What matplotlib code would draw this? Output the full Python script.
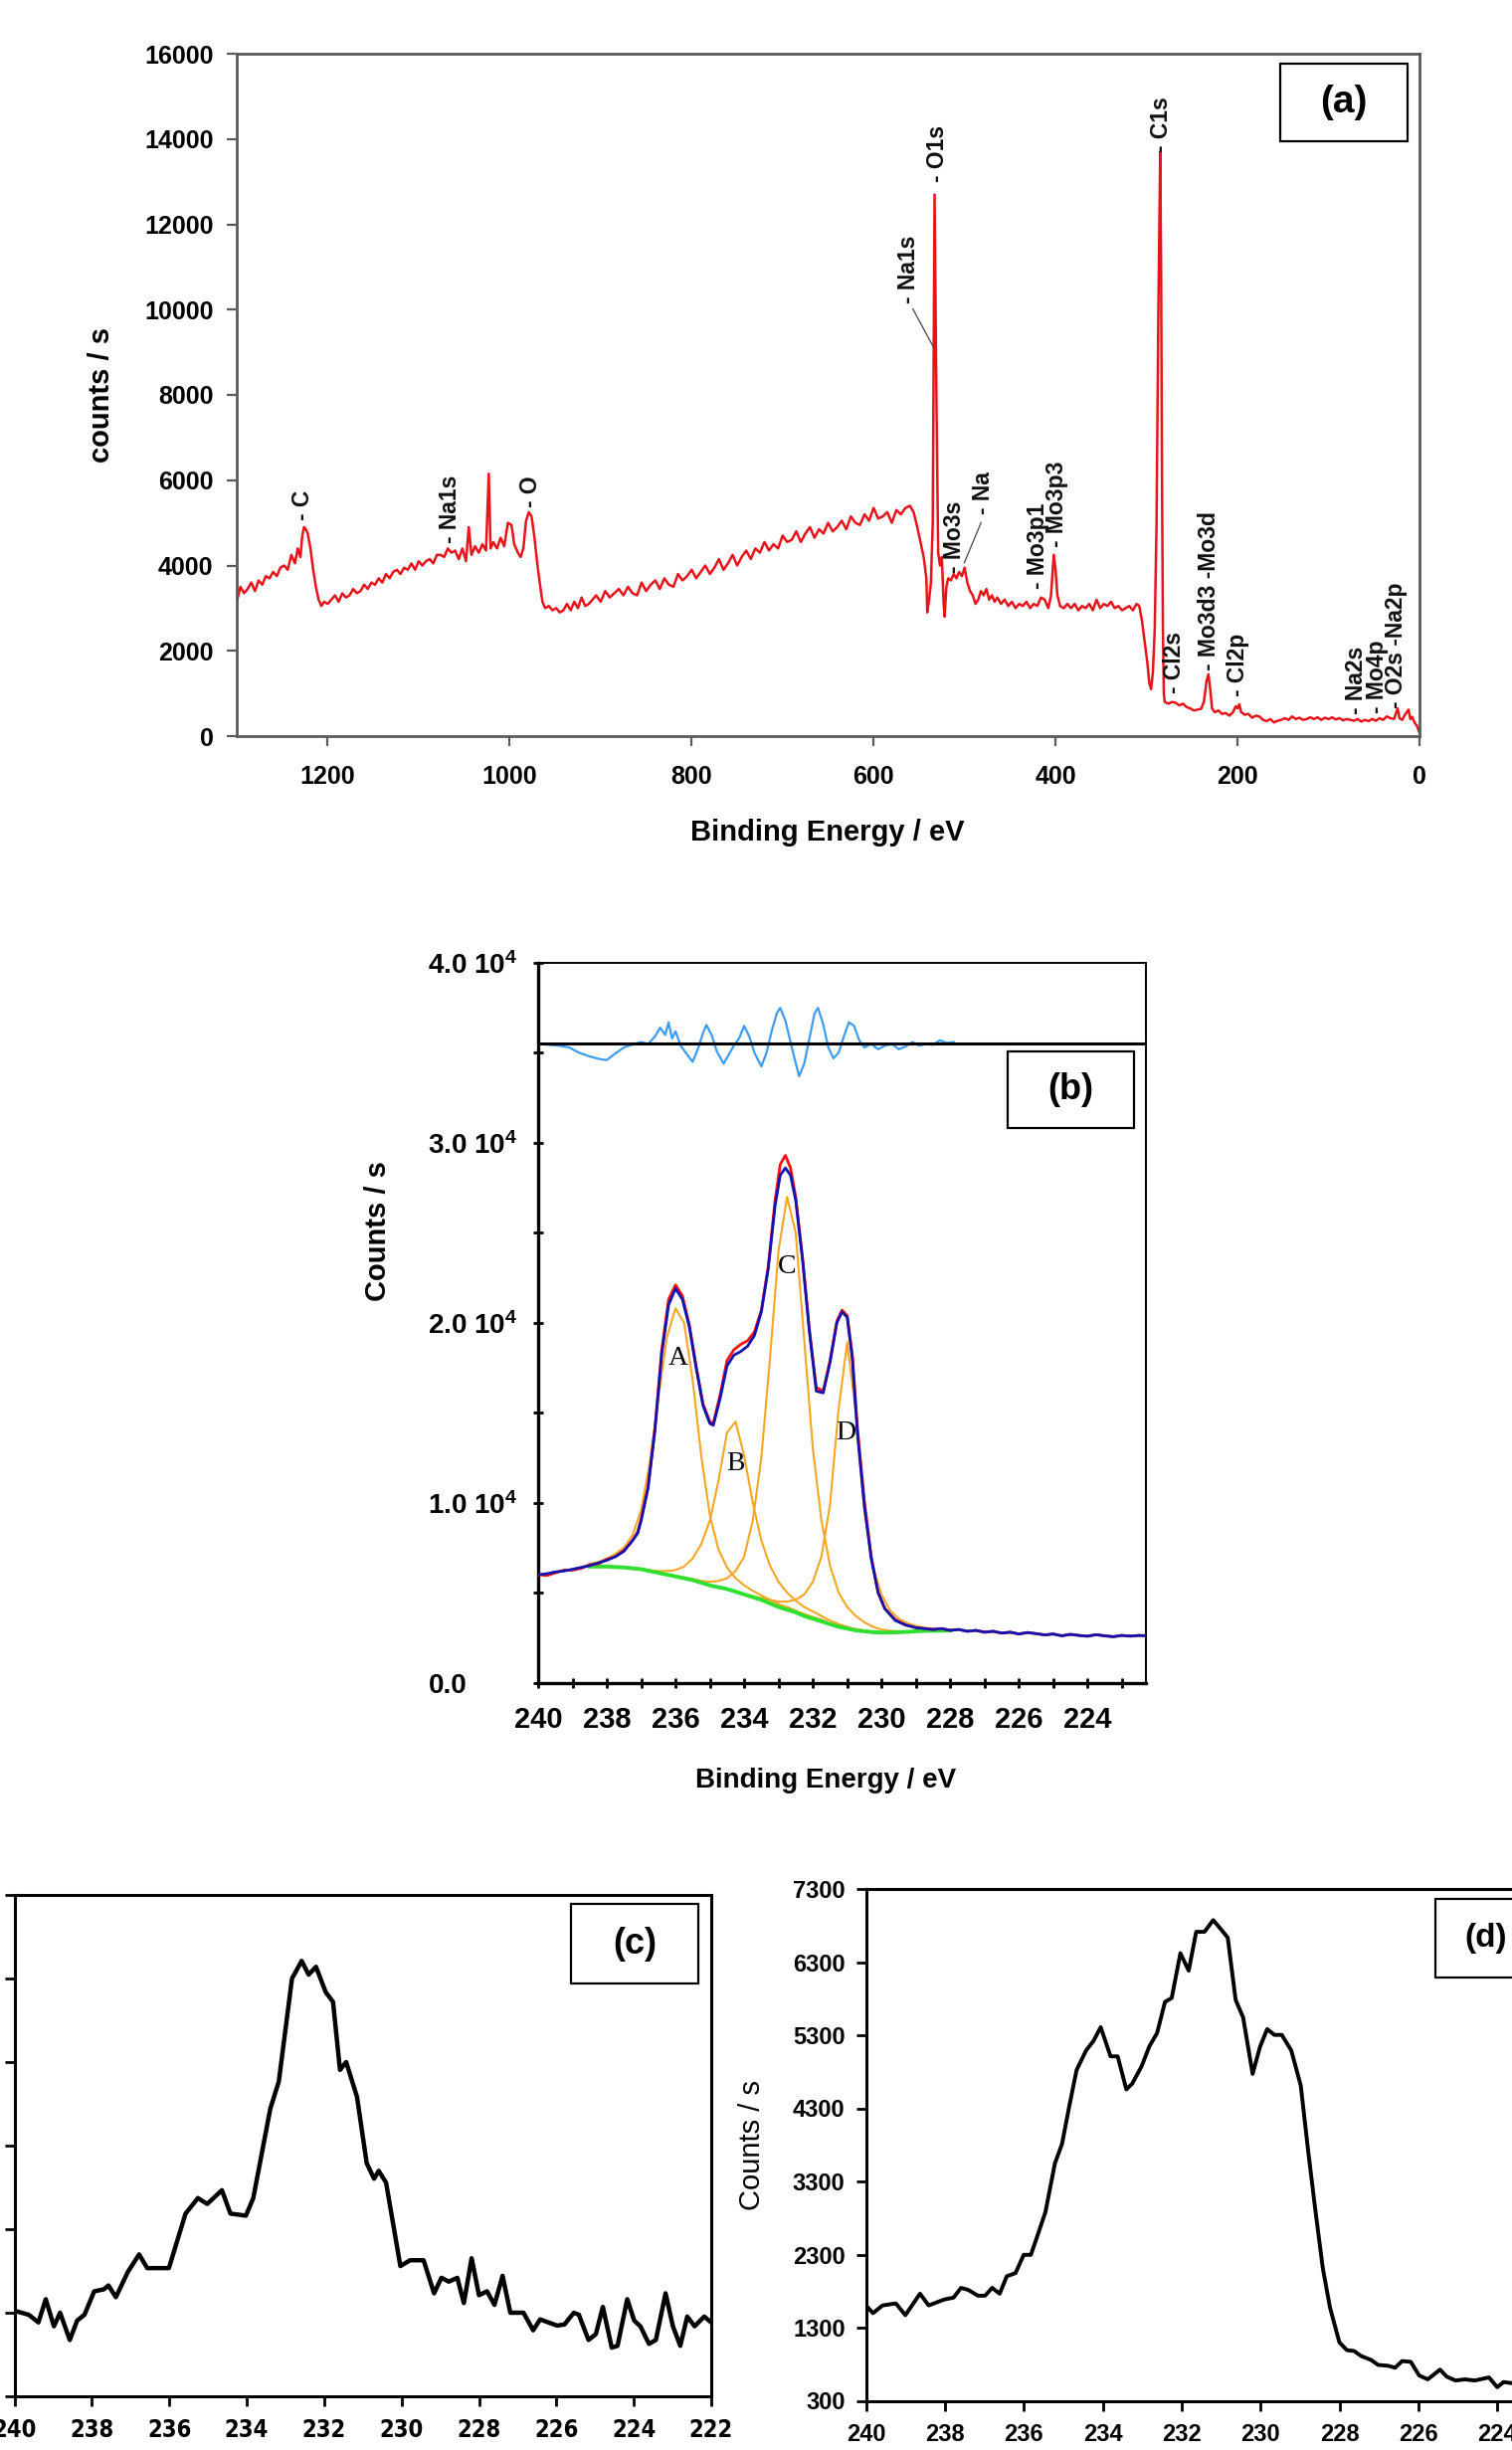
import matplotlib
matplotlib.use("Agg")
import matplotlib.pyplot as plt
from matplotlib.patches import Rectangle
from matplotlib.ticker import MultipleLocator
import numpy as np

plt.rcParams['font.family'] = ['Liberation Sans', 'DejaVu Sans']
plt.rcParams['mathtext.fontset'] = 'custom'
plt.rcParams['mathtext.rm'] = 'Liberation Sans'
plt.rcParams['mathtext.bf'] = 'Liberation Sans:bold'
plt.rcParams['mathtext.default'] = 'bf'

# ------------------------------------------------------------------ data (a)
survey_be = [
    1300, 1296, 1292, 1288, 1284, 1280, 1276, 1272, 1268, 1264,
    1260, 1256, 1252, 1248, 1244, 1240, 1236, 1233, 1230, 1228,
    1226, 1224, 1222, 1219, 1216, 1213, 1210, 1207, 1204, 1200,
    1196, 1192, 1188, 1184, 1180, 1176, 1172, 1168, 1164, 1160,
    1156, 1152, 1148, 1144, 1140, 1136, 1132, 1128, 1124, 1120,
    1116, 1112, 1108, 1104, 1100, 1096, 1092, 1088, 1084, 1080,
    1076, 1072, 1068, 1064, 1060, 1056, 1052, 1048, 1045, 1042,
    1038, 1034, 1030, 1026, 1023, 1021, 1018, 1014, 1010, 1006,
    1002, 998, 995, 991, 988, 985, 982, 979, 976, 973,
    970, 967, 964, 961, 957, 953, 949, 945, 941, 937,
    933, 929, 925, 921, 917, 913, 909, 905, 900, 895,
    890, 885, 880, 875, 870, 865, 860, 855, 850, 845,
    840, 835, 830, 825, 820, 815, 810, 805, 800, 795,
    790, 785, 780, 775, 770, 765, 760, 755, 750, 745,
    740, 735, 730, 725, 720, 715, 710, 705, 700, 695,
    690, 685, 680, 675, 670, 665, 660, 655, 650, 645,
    640, 635, 630, 625, 620, 615, 610, 605, 600, 595,
    590, 585, 580, 575, 570, 565, 560, 556, 552, 548,
    545, 542, 541, 539, 537, 535, 533, 531, 529, 527,
    525, 523, 522, 520, 518, 515, 512, 509, 506, 503,
    500, 497, 494, 491, 488, 485, 482, 479, 476, 473,
    470, 467, 464, 460, 456, 452, 448, 444, 440, 436,
    432, 428, 424, 420, 416, 412, 408, 405, 402, 400,
    398, 395, 391, 387, 383, 379, 375, 371, 367, 363,
    359, 355, 351, 347, 343, 339, 335, 331, 327, 323,
    319, 315, 311, 308, 305, 302, 299, 297, 295, 293,
    291, 289, 287, 285, 284, 283, 282, 281, 280, 276,
    272, 268, 264, 260, 256, 252, 248, 244, 240, 237,
    234, 232, 230, 228, 225, 221, 217, 213, 209, 205,
    202, 200, 198, 196, 192, 188, 184, 180, 176, 172,
    168, 164, 160, 156, 152, 148, 144, 140, 136, 132,
    128, 124, 120, 116, 112, 108, 104, 100, 96, 92,
    88, 84, 80, 76, 72, 68, 64, 60, 56, 52,
    48, 44, 40, 36, 32, 28, 24, 22, 19, 16,
    12, 10, 8, 5, 3, 0]
survey_cps = [
    3150, 3500, 3350, 3450, 3600, 3400, 3650, 3550, 3750, 3700,
    3850, 3750, 3950, 4000, 3900, 4250, 4050, 4400, 4200, 4700,
    4900, 4850, 4750, 4400, 3900, 3500, 3200, 3050, 3150, 3100,
    3200, 3300, 3150, 3350, 3250, 3300, 3450, 3350, 3400, 3550,
    3450, 3600, 3550, 3700, 3600, 3800, 3700, 3850, 3900, 3800,
    3950, 3900, 4050, 3900, 4100, 4000, 4100, 4150, 4050, 4250,
    4250, 4200, 4400, 4300, 4350, 4150, 4400, 4100, 4900, 4250,
    4450, 4300, 4500, 4350, 6150, 4400, 4550, 4400, 4650, 4450,
    5000, 4950, 4500, 4300, 4200, 4400, 5050, 5250, 5150, 4700,
    4100, 3600, 3150, 3000, 3050, 2950, 3000, 2900, 2950, 3100,
    2950, 3150, 3000, 3250, 3050, 3100, 3200, 3300, 3150, 3400,
    3250, 3350, 3450, 3300, 3500, 3350, 3300, 3600, 3400, 3550,
    3650, 3450, 3700, 3550, 3500, 3800, 3650, 3750, 3900, 3700,
    3850, 4000, 3800, 3950, 4150, 3900, 4050, 4250, 4000, 4200,
    4350, 4150, 4400, 4300, 4550, 4350, 4500, 4400, 4700, 4550,
    4600, 4800, 4550, 4750, 4900, 4650, 4850, 4750, 5000, 4800,
    4900, 5050, 4850, 5150, 5000, 4950, 5200, 5050, 5350, 5100,
    5150, 5250, 5000, 5300, 5200, 5350, 5400, 5250, 4900, 4500,
    4200, 3700, 2900, 3200, 3600, 5000, 12700, 8000, 4300, 4000,
    4200, 3100, 2800, 3500, 3700, 3650, 3800, 3700, 3850, 3750,
    3950, 3600, 3400, 3300, 3100, 3200, 3400, 3300, 3450, 3200,
    3300, 3150, 3250, 3100, 3200, 3050, 3150, 3000, 3100, 3050,
    3150, 3000, 3100, 3050, 3250, 3200, 3000, 3300, 4250, 3900,
    3300, 3050, 3000, 3100, 3000, 3100, 2950, 3050, 3000, 3100,
    2950, 3200, 3000, 3100, 3050, 3150, 3000, 3050, 2950, 3000,
    3050, 2950, 3100, 3050, 2700, 2200, 1700, 1250, 1100, 1500,
    2500, 5000, 10000, 13700, 11000, 6000, 2500, 1000, 800, 760,
    800, 780, 720, 760, 680, 650, 600, 620, 640, 800,
    1300, 1450, 1100, 650, 560, 600, 520, 540, 480, 560,
    700, 650, 750, 560, 500, 520, 430, 480, 460, 380,
    350, 400, 320, 360, 380, 420, 380, 460, 400, 430,
    380, 400, 440, 400, 440, 380, 430, 400, 440, 390,
    420, 370, 400, 380, 360, 400, 340, 380, 350, 400,
    360, 420, 380, 460, 420, 400, 650, 420, 380, 500,
    620, 400, 450, 300, 250, 80]

a_xticks = [1200, 1000, 800, 600, 400, 200, 0]
a_yticks = [0, 2000, 4000, 6000, 8000, 10000, 12000, 14000, 16000]

peak_text = ['- C', '- Na1s', '- O', '- Na1s', '- O1s', '- Mo3s', '- Na', '- Mo3p1',
             '- Mo3p3', '- C1s', '- Cl2s', '- Mo3d3 -Mo3d', '- Cl2p', '- Na2s',
             '- Mo4p', '- O2s -Na2p']
peak_be = [1227, 1065, 977, 561, 529.5, 511.5, 479, 419, 398, 284, 270, 231, 199.5,
           69.5, 46, 26]
peak_cps = [5070, 4530, 5370, 10140, 13000, 3820, 5190, 3460, 4420, 13700, 1010,
            1550, 935, 510, 545, 660]
leader_from_be = [557, 481.8]
leader_from_cps = [10020, 5010]
leader_to_be = [534.2, 500.4]
leader_to_cps = [9120, 4058]

# ------------------------------------------------------------------ data (b)
env_be = [240.0, 239.75, 239.5, 239.25, 239.0, 238.75, 238.5, 238.25, 238.0, 237.75,
          237.5, 237.25, 237.1, 237.0, 236.8, 236.6, 236.4, 236.2, 236.0, 235.8,
          235.6, 235.4, 235.2, 235.0, 234.9, 234.7, 234.5, 234.3, 234.1, 233.9,
          233.7, 233.5, 233.3, 233.1, 232.95, 232.8, 232.65, 232.5, 232.3, 232.1,
          231.9, 231.7, 231.5, 231.3, 231.15, 231.0, 230.85, 230.7, 230.5, 230.3,
          230.1, 229.9, 229.6, 229.3, 229.0, 228.75, 228.5, 228.25, 228.0, 227.75,
          227.5, 227.25, 227.0, 226.75, 226.5, 226.25, 226.0, 225.75, 225.5, 225.25,
          225.0, 224.75, 224.5, 224.25, 224.0, 223.75, 223.5, 223.25, 223.0, 222.75,
          222.5, 222.3]
envelope_k = [6.0, 6.05, 6.15, 6.2, 6.3, 6.4, 6.5, 6.65, 6.8, 7.0,
              7.3, 7.9, 8.3, 9.0, 10.8, 14.0, 18.3, 21.0, 21.9, 21.3,
              19.8, 17.5, 15.4, 14.4, 14.3, 15.8, 17.6, 18.2, 18.4, 18.7,
              19.3, 20.6, 23.0, 26.5, 28.2, 28.6, 28.2, 26.8, 23.5, 19.5,
              16.2, 16.1, 17.8, 20.0, 20.6, 20.3, 18.0, 13.8, 9.8, 6.9,
              5.0, 4.1, 3.45, 3.2, 3.05, 3.0, 2.95, 3.0, 2.9, 2.95,
              2.85, 2.9, 2.8, 2.85, 2.75, 2.8, 2.7, 2.78, 2.72, 2.65,
              2.7, 2.6, 2.68, 2.62, 2.58, 2.66, 2.6, 2.55, 2.62, 2.58,
              2.62, 2.6]
measured_k = [6.0, 5.95, 6.1, 6.25, 6.25, 6.35, 6.55, 6.6, 6.85, 7.0,
              7.35, 7.9, 8.4, 9.1, 10.9, 14.1, 18.5, 21.3, 22.1, 21.5,
              19.9, 17.6, 15.5, 14.5, 14.4, 16.0, 17.9, 18.5, 18.8, 19.0,
              19.5, 20.7, 23.1, 26.8, 28.8, 29.3, 28.6, 27.0, 23.6, 19.6,
              16.4, 16.2, 17.9, 20.1, 20.7, 20.4, 18.2, 14.1, 10.1, 7.0,
              5.0, 4.1, 3.5, 3.2, 3.05, 3.0, 2.95, 3.0, 2.9, 2.95,
              2.85, 2.9, 2.8, 2.85, 2.75, 2.8, 2.7, 2.78, 2.72, 2.65,
              2.7, 2.6, 2.68, 2.62, 2.58, 2.66, 2.6, 2.55, 2.62, 2.58,
              2.62, 2.6]
comp_be = [238.5, 238.25, 238.0, 237.75, 237.5, 237.25, 237.0, 236.75, 236.5, 236.25,
           236.0, 235.75, 235.5, 235.25, 235.0, 234.75, 234.5, 234.25, 234.0, 233.75,
           233.5, 233.25, 233.0, 232.75, 232.5, 232.25, 232.0, 231.75, 231.5, 231.25,
           231.0, 230.75, 230.5, 230.25, 230.0, 229.75, 229.5, 229.25, 229.0, 228.75,
           228.5, 228.25, 228.0]
background_k = [6.45, 6.45, 6.45, 6.42, 6.4, 6.35, 6.3, 6.2, 6.1, 6.0,
                5.9, 5.8, 5.7, 5.55, 5.4, 5.3, 5.2, 5.05, 4.9, 4.75,
                4.6, 4.4, 4.2, 4.05, 3.9, 3.7, 3.55, 3.4, 3.25, 3.1,
                3.0, 2.9, 2.85, 2.8, 2.78, 2.78, 2.8, 2.82, 2.85, 2.87,
                2.88, 2.89, 2.9]
peak_A_k = [6.6, 6.7, 6.9, 7.15, 7.5, 8.2, 9.6, 12.2, 15.8, 19.2,
            20.8, 20.0, 16.8, 12.6, 9.3, 7.4, 6.4, 5.8, 5.4, 5.1,
            4.85, 4.6, 4.35, 4.2, 4.0, 3.8, 3.65, 3.5, 3.3, 3.15,
            3.05, 2.95, 2.88, 2.82, 2.8, 2.8, 2.8, 2.82, 2.85, 2.87,
            2.88, 2.89, 2.9]
peak_B_k = [6.45, 6.45, 6.45, 6.43, 6.42, 6.38, 6.33, 6.25, 6.2, 6.2,
            6.25, 6.45, 6.9, 7.7, 9.0, 11.2, 13.9, 14.5, 12.6, 10.0,
            7.9, 6.5, 5.6, 5.0, 4.55, 4.2, 3.95, 3.7, 3.45, 3.25,
            3.1, 2.97, 2.9, 2.83, 2.8, 2.79, 2.8, 2.82, 2.85, 2.87,
            2.88, 2.89, 2.9]
peak_C_k = [6.45, 6.45, 6.45, 6.42, 6.4, 6.35, 6.3, 6.2, 6.1, 6.0,
            5.92, 5.84, 5.76, 5.65, 5.6, 5.65, 5.8, 6.2, 7.0, 9.0,
            12.5, 18.0, 24.0, 27.0, 25.0, 19.0, 13.0, 9.0, 6.5, 5.0,
            4.2, 3.7, 3.35, 3.1, 2.95, 2.88, 2.85, 2.85, 2.86, 2.87,
            2.88, 2.89, 2.9]
peak_D_k = [6.45, 6.45, 6.45, 6.42, 6.4, 6.35, 6.3, 6.2, 6.1, 6.0,
            5.9, 5.8, 5.7, 5.55, 5.4, 5.3, 5.2, 5.05, 4.92, 4.8,
            4.7, 4.6, 4.5, 4.5, 4.6, 4.9, 5.6, 7.0, 9.9, 15.2,
            18.9, 15.0, 9.6, 6.4, 4.9, 4.0, 3.55, 3.3, 3.15, 3.05,
            3.0, 2.95, 2.92]
peak_names = ['A', 'B', 'C', 'D']
peak_name_be = [235.92, 234.26, 232.75, 231.05]
peak_name_k = [18.0, 12.15, 23.1, 13.9]
resid_be = [240.0, 239.7, 239.4, 239.1, 238.8, 238.5, 238.2, 238.0, 237.8, 237.5,
            237.2, 237.0, 236.8, 236.6, 236.45, 236.3, 236.2, 236.1, 236.0, 235.85,
            235.7, 235.5, 235.35, 235.2, 235.1, 234.95, 234.8, 234.6, 234.45, 234.3,
            234.15, 234.0, 233.85, 233.7, 233.5, 233.35, 233.2, 233.05, 232.95, 232.8,
            232.6, 232.4, 232.25, 232.1, 231.95, 231.85, 231.7, 231.55, 231.4, 231.25,
            231.1, 230.95, 230.8, 230.65, 230.5, 230.3, 230.1, 229.9, 229.7, 229.5,
            229.3, 229.1, 228.9, 228.7, 228.5, 228.3, 228.1, 227.9]
resid_k = [35.5, 35.45, 35.4, 35.3, 35.0, 34.8, 34.65, 34.6, 34.9, 35.3,
           35.5, 35.6, 35.5, 35.9, 36.4, 36.0, 36.7, 35.8, 36.2, 35.4,
           35.0, 34.5, 35.2, 36.1, 36.55, 36.0, 35.1, 34.4, 34.9, 35.4,
           35.8, 36.5, 35.9, 35.0, 34.25, 35.0, 36.2, 37.2, 37.5, 36.8,
           35.2, 33.7, 34.4, 35.8, 37.2, 37.5, 36.6, 35.3, 34.7, 35.0,
           35.9, 36.7, 36.5, 35.7, 35.3, 35.5, 35.2, 35.4, 35.5, 35.2,
           35.35, 35.6, 35.4, 35.5, 35.45, 35.7, 35.55, 35.6]
resid_zero_k = 35.5
b_yticks = [0, 10000, 20000, 30000, 40000]
b_yticklabels = ['0.0', '1.0 10$^{4}$', '2.0 10$^{4}$', '3.0 10$^{4}$', '4.0 10$^{4}$']
b_xticks = [240, 238, 236, 234, 232, 230, 228, 226, 224]

# ------------------------------------------------------------------ data (c)
c_be = [240.0, 239.63, 239.38, 239.19, 238.98, 238.82, 238.57, 238.38, 238.19, 237.94,
        237.69, 237.57, 237.38, 237.07, 236.78, 236.57, 236.01, 235.58, 235.26, 235.02,
        234.64, 234.42, 234.02, 233.83, 233.39, 233.17, 232.83, 232.58, 232.4, 232.21,
        231.96, 231.77, 231.59, 231.43, 231.15, 230.9, 230.71, 230.59, 230.4, 230.03,
        229.78, 229.43, 229.16, 228.97, 228.78, 228.56, 228.39, 228.19, 228.0, 227.79,
        227.6, 227.39, 227.19, 226.85, 226.6, 226.42, 225.98, 225.79, 225.55, 225.42,
        225.17, 224.98, 224.8, 224.57, 224.42, 224.17, 223.99, 223.83, 223.61, 223.43,
        223.18, 222.99, 222.8, 222.62, 222.43, 222.18, 222.0]
c_cps = [512, 488, 442, 581, 419, 500, 337, 453, 488, 628,
         640, 663, 593, 744, 849, 767, 767, 1093, 1186, 1151,
         1233, 1093, 1081, 1186, 1721, 1884, 2500, 2605, 2523, 2570,
         2419, 2360, 1953, 2000, 1791, 1395, 1302, 1349, 1279, 779,
         814, 814, 616, 709, 686, 709, 558, 826, 605, 628,
         547, 721, 500, 500, 395, 460, 423, 430, 500, 488,
         337, 372, 535, 291, 302, 581, 453, 419, 314, 337,
         616, 419, 302, 477, 419, 477, 442]
c_xticks = [240, 238, 236, 234, 232, 230, 228, 226, 224, 222]
c_yticks = [0, 500, 1000, 1500, 2000, 2500, 3000]

# ------------------------------------------------------------------ data (d)
d_be = [240.0, 239.82, 239.58, 239.24, 239.0, 238.63, 238.41, 238.02, 237.78, 237.59,
        237.41, 237.16, 236.98, 236.8, 236.61, 236.43, 236.21, 236.0, 235.82, 235.7,
        235.45, 235.21, 235.03, 234.84, 234.66, 234.42, 234.23, 234.05, 233.8, 233.62,
        233.4, 233.25, 233.01, 232.82, 232.62, 232.42, 232.25, 232.03, 231.82, 231.63,
        231.42, 231.2, 230.99, 230.83, 230.63, 230.44, 230.2, 230.01, 229.83, 229.65,
        229.46, 229.22, 228.98, 228.79, 228.61, 228.42, 228.24, 228.0, 227.81, 227.63,
        227.45, 227.2, 227.02, 226.77, 226.59, 226.41, 226.19, 225.98, 225.76, 225.45,
        225.28, 225.06, 224.82, 224.57, 224.21, 224.0, 223.84, 223.62]
d_cps = [1604, 1498, 1604, 1631, 1471, 1764, 1604, 1684, 1711, 1844,
         1817, 1737, 1737, 1844, 1764, 2003, 2046, 2296, 2296, 2482,
         2882, 3547, 3813, 4346, 4825, 5091, 5224, 5410, 5011, 5011,
         4558, 4638, 4878, 5144, 5330, 5756, 5809, 6422, 6182, 6714,
         6714, 6874, 6741, 6634, 5783, 5543, 4771, 5144, 5384, 5304,
         5304, 5091, 4612, 3707, 2908, 2110, 1578, 1098, 992, 981,
         912, 859, 790, 779, 752, 843, 832, 646, 593, 726,
         630, 577, 593, 577, 619, 486, 556, 540]
d_xticks = [240, 238, 236, 234, 232, 230, 228, 226, 224, 222]
d_yticks = [300, 1300, 2300, 3300, 4300, 5300, 6300, 7300]

# ------------------------------------------------------------------ figure
W, H = 1520, 2463
fig = plt.figure(figsize=(W / 100, H / 100), dpi=100)
fig.patch.set_facecolor('white')


def axes_px(left, top, right, bottom):
    return fig.add_axes([left / W, 1 - bottom / H, (right - left) / W, (bottom - top) / H])


def tag(ax, x0, y0, x1, y1, text, size, tx=None, ty=None):
    ax.add_patch(Rectangle((x0, y0), x1 - x0, y1 - y0, transform=ax.transAxes,
                           facecolor='white', edgecolor='black', lw=1.6,
                           zorder=5, clip_on=False))
    ax.text((x0 + x1) / 2 if tx is None else tx, (y0 + y1) / 2 if ty is None else ty,
            text, transform=ax.transAxes, ha='center', va='center', fontsize=size,
            fontweight='bold', zorder=6)


def fig_text(x, y, s, **kw):
    fig.text(x / W, 1 - y / H, s, ha='center', va='center', **kw)


# ---------------- panel (a)
ax = axes_px(238, 54, 1427, 740)
ax.plot(survey_be, survey_cps, color='#e8141c', lw=1.8)
ax.set_xlim(1300, 0)
ax.set_ylim(0, 16000)
ax.set_xticks(a_xticks)
ax.set_xticklabels([str(v) for v in a_xticks])
ax.set_yticks(a_yticks)
ax.set_yticklabels([str(v) for v in a_yticks])
for s in ax.spines.values():
    s.set_color('#5a5a5a')
    s.set_linewidth(2)
ax.tick_params(direction='out', length=7, width=1.6, color='#5a5a5a', labelsize=18)
ax.tick_params(axis='x', pad=14)
ax.tick_params(axis='y', pad=10)
for lab in ax.get_xticklabels() + ax.get_yticklabels():
    lab.set_fontweight('bold')
for txt, xb, yb in zip(peak_text, peak_be, peak_cps):
    ax.text(xb, yb, txt, rotation=90, ha='center', va='bottom', fontsize=16.5,
            fontweight='bold', color='#111111')
for x0, y0, x1, y1 in zip(leader_from_be, leader_from_cps, leader_to_be, leader_to_cps):
    ax.annotate('', xy=(x1, y1), xytext=(x0, y0),
                arrowprops=dict(arrowstyle='-', color='#444444', lw=0.9,
                                shrinkA=0, shrinkB=0))
tag(ax, 0.8823, 0.8717, 0.9899, 0.9854, '(a)', 28)
fig_text(102, 397, 'counts / s', rotation=90, fontsize=21, fontweight='bold')
fig_text(832, 837, 'Binding Energy / eV', fontsize=21, fontweight='bold')

# ---------------- panel (b)
ax = axes_px(541, 968, 1152, 1691.5)
k = 1000.0
for comp in (peak_A_k, peak_B_k, peak_C_k, peak_D_k):
    ax.plot(comp_be, np.array(comp) * k, color='#f5a623', lw=1.5, zorder=2)
ax.plot(comp_be, np.array(background_k) * k, color='#30e030', lw=2.8, zorder=3)
ax.plot(env_be, np.array(measured_k) * k, color='#ff1010', lw=2.0, zorder=4)
ax.plot(env_be, np.array(envelope_k) * k, color='#1212b0', lw=2.0, zorder=5)
ax.plot(resid_be, np.array(resid_k) * k, color='#3d9df0', lw=1.6, zorder=4)
ax.axhline(resid_zero_k * k, color='black', lw=2.2, zorder=6)
for name, xb, yb in zip(peak_names, peak_name_be, peak_name_k):
    ax.text(xb, yb * k, name, ha='center', va='center', fontsize=20,
            family=['Liberation Serif', 'DejaVu Serif'], zorder=7)
ax.set_xlim(240, 222.3)
ax.set_ylim(0, 40000)
ax.set_xticks(b_xticks)
ax.set_xticklabels([str(v) for v in b_xticks])
ax.xaxis.set_minor_locator(MultipleLocator(1))
ax.set_yticks(b_yticks)
ax.set_yticklabels(b_yticklabels)
ax.yaxis.set_minor_locator(MultipleLocator(5000))
for side in ('left', 'bottom'):
    ax.spines[side].set_linewidth(2.4)
for side in ('top', 'right'):
    ax.spines[side].set_linewidth(1.4)
ax.tick_params(which='both', direction='inout', length=7.2, width=2)
ax.tick_params(axis='x', labelsize=21, pad=13)
ax.tick_params(axis='y', labelsize=20, pad=76)
for lab in ax.get_yticklabels():
    lab.set_horizontalalignment('left')
    lab.set_fontweight('bold')
for lab in ax.get_xticklabels():
    lab.set_fontweight('bold')
tag(ax, 0.7725, 0.7703, 0.9804, 0.8767, '(b)', 26)
fig_text(380, 1238, 'Counts / s', rotation=90, fontsize=21, fontweight='bold')
fig_text(830, 1790, 'Binding Energy / eV', fontsize=20, fontweight='bold')

# ---------------- panel (c)
ax = axes_px(14.5, 1905, 715, 2409)
ax.plot(c_be, c_cps, color='black', lw=3.2)
ax.set_xlim(240, 222)
ax.set_ylim(0, 3000)
ax.set_xticks(c_xticks)
ax.set_xticklabels([str(v) for v in c_xticks])
ax.set_yticks(c_yticks)
ax.set_yticklabels([''] * len(c_yticks))
for s in ax.spines.values():
    s.set_linewidth(2.2)
ax.tick_params(direction='out', length=7, width=2, labelsize=17, pad=9)
for lab in ax.get_xticklabels():
    lab.set_fontweight('bold')
    lab.set_family(['DejaVu Sans'])
    lab.set_fontstretch('condensed')
tag(ax, 0.7987, 0.8234, 0.9815, 0.9812, '(c)', 26)

# ---------------- panel (d)
ax = axes_px(870.5, 1899, 1584.5, 2413.5)
ax.plot(d_be, d_cps, color='black', lw=2.8)
ax.set_xlim(240, 222)
ax.set_ylim(300, 7300)
ax.set_xticks(d_xticks)
ax.set_xticklabels([str(v) for v in d_xticks])
ax.set_yticks(d_yticks)
ax.set_yticklabels([str(v) for v in d_yticks])
for s in ax.spines.values():
    s.set_linewidth(2.2)
ax.tick_params(direction='out', length=7, width=2, labelsize=17)
ax.tick_params(axis='x', pad=9)
ax.tick_params(axis='y', pad=8)
for lab in ax.get_xticklabels() + ax.get_yticklabels():
    lab.set_fontweight('bold')
tag(ax, 0.8025, 0.8278, 0.9825, 0.9813, '(d)', 24, tx=0.873)
fig_text(756, 2157, 'Counts / s', rotation=90, fontsize=21)

fig.savefig('out.png', dpi=100, facecolor='white')
